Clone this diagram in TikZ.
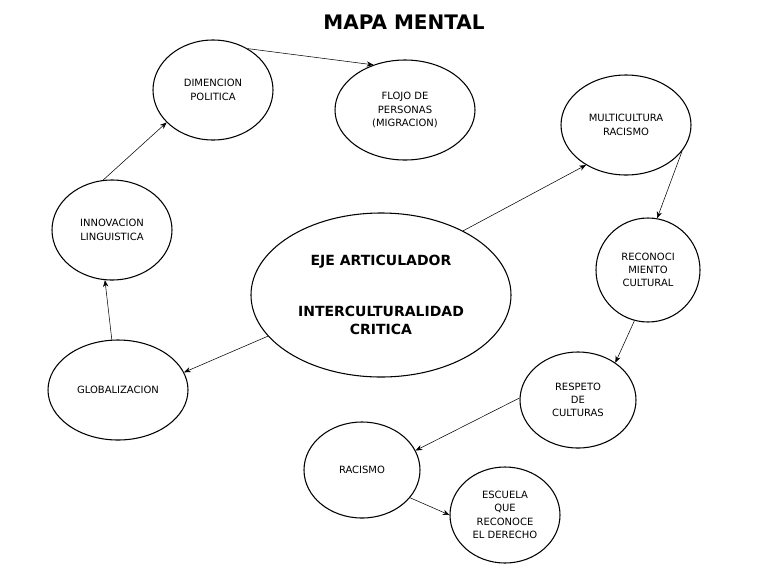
\documentclass[tikz,border=0pt]{standalone}
\usepackage{fontspec}
\setmainfont{DejaVu Sans}
\usetikzlibrary{shapes.geometric,arrows.meta}
\begin{document}
\begin{tikzpicture}[x=0.75pt,y=-0.75pt,
  el/.style={ellipse,draw,thick,align=center,inner sep=0pt,font=\fontsize{7.5}{10}\selectfont},
  arr/.style={-{Stealth[length=5pt,width=4pt]},thin}]
\useasboundingbox (0,0) rectangle (768,576);
\node[font=\bfseries\fontsize{15}{18}\selectfont] (t) at (404,22) {MAPA MENTAL};
\node[el,minimum width=120*0.75pt,minimum height=100*0.75pt] (dp) at (213,90) {DIMENCION\\POLITICA};
\node[el,minimum width=140*0.75pt,minimum height=100*0.75pt] (fp) at (405,110) {FLOJO DE\\PERSONAS\\(MIGRACION)};
\node[el,minimum width=130*0.75pt,minimum height=100*0.75pt] (mr) at (626,125) {MULTICULTURA\\RACISMO};
\node[el,minimum width=120*0.75pt,minimum height=100*0.75pt] (il) at (112,230) {INNOVACION\\LINGUISTICA};
\node[el,minimum width=260*0.75pt,minimum height=164*0.75pt,font=\bfseries\fontsize{10.5}{14}\selectfont] (eje) at (381,295) {EJE ARTICULADOR\\[24pt]INTERCULTURALIDAD\\CRITICA};
\node[el,minimum width=104*0.75pt,minimum height=104*0.75pt] (rc) at (648,270) {RECONOCI\\MIENTO\\CULTURAL};
\node[el,minimum width=140*0.75pt,minimum height=100*0.75pt] (gl) at (118,390) {GLOBALIZACION};
\node[el,minimum width=116*0.75pt,minimum height=96*0.75pt] (rs) at (578,400) {RESPETO\\DE\\CULTURAS};
\node[el,minimum width=116*0.75pt,minimum height=96*0.75pt] (ra) at (362,470) {RACISMO};
\node[el,minimum width=110*0.75pt,minimum height=96*0.75pt] (es) at (505,515) {ESCUELA\\QUE\\RECONOCE\\EL DERECHO};
\draw[arr] (gl.97) -- (il.262);
\draw[arr] (il.100) -- (dp.215);
\draw[arr] (dp.50) -- (fp.125);
\draw[arr] (eje.38) -- (mr.225);
\draw[arr] (mr.335) -- (rc.80);
\draw[arr] (rc.255) -- (rs.45);
\draw[arr] (rs.178) -- (ra.20);
\draw[arr] (ra.330) -- (es.180);
\draw[arr] (eje.200) -- (gl.15);
\end{tikzpicture}
\end{document}
